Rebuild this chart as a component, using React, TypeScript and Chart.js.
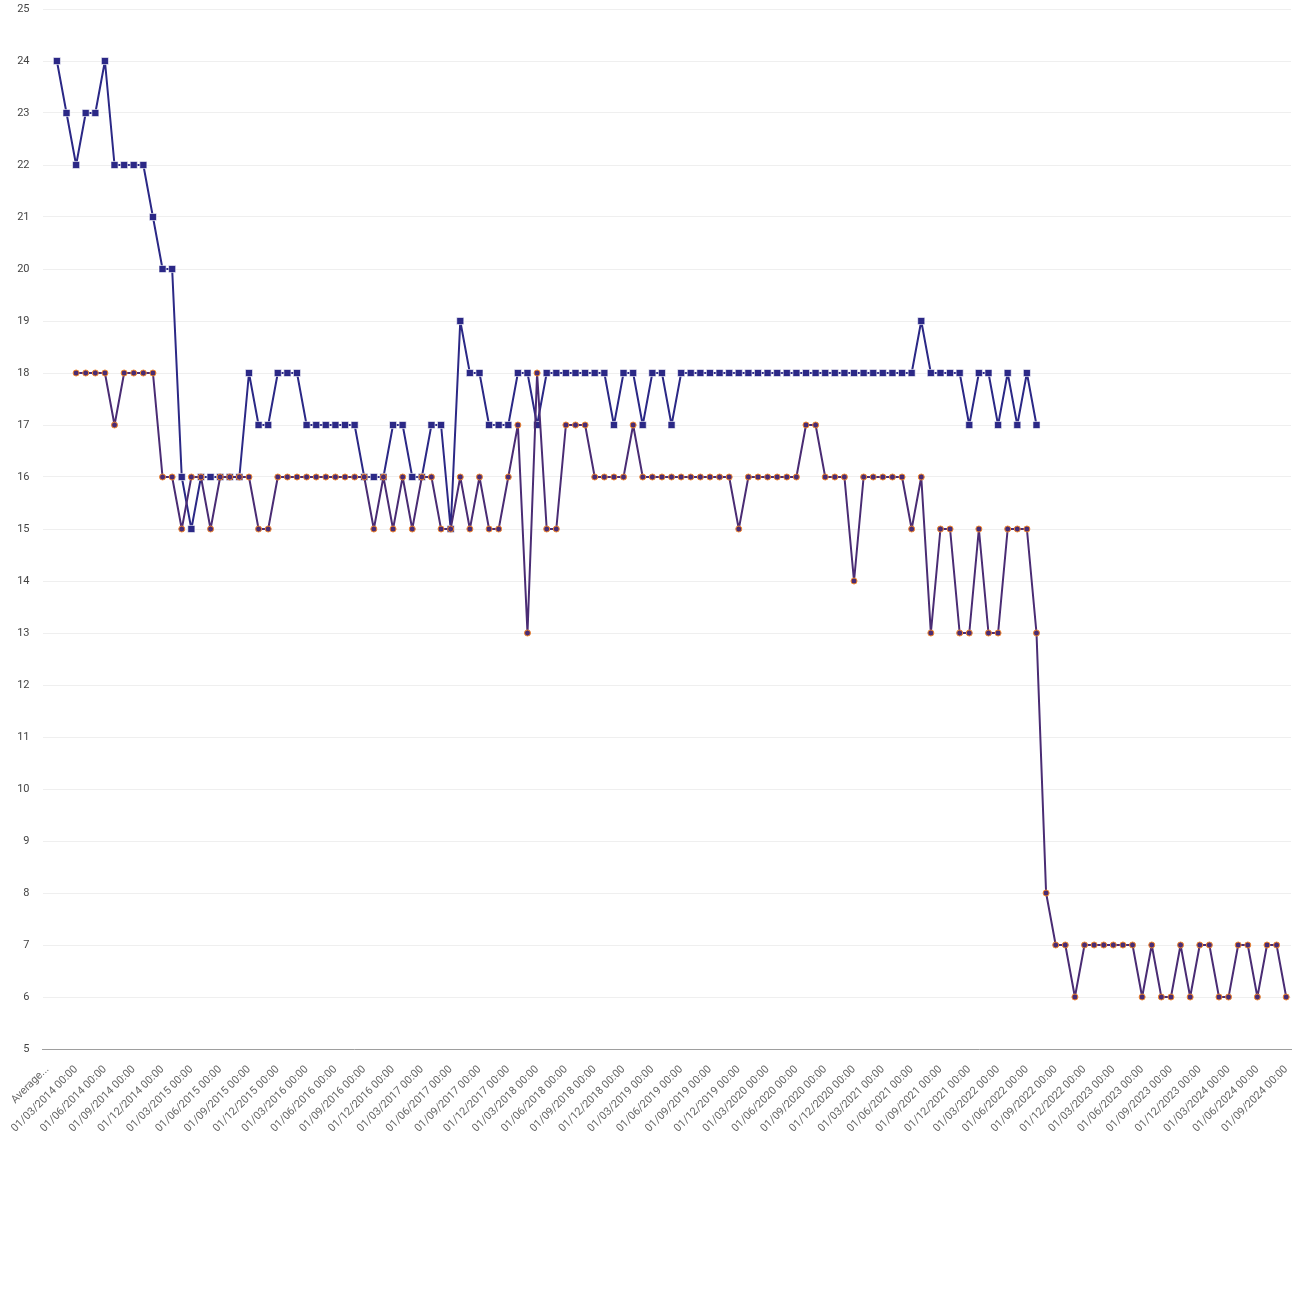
import React, { useEffect, useRef } from "react";
import { Chart, registerables } from "chart.js";

Chart.register(...registerables);

const FIRST_LABEL = "Average...";
const START_YEAR = 2014;
const MONTH_COUNT = 129;

const seriesA: (number | null)[] = [
  null,
  24, 23, 22, 23, 23, 24, 22, 22, 22, 22, 21, 20, 20,
  16, 15, 16, 16, 16, 16, 16,
  18, 17, 17, 18, 18, 18,
  17, 17, 17, 17, 17, 17,
  16, 16, 16, 17, 17, 16, 16, 17, 17,
  15, 19, 18, 18, 17, 17, 17, 18, 18, 17, 18, 18,
  18, 18, 18, 18, 18, 17, 18, 18, 17, 18, 18, 17,
  18, 18, 18, 18, 18, 18, 18, 18, 18, 18, 18, 18, 18, 18, 18, 18, 18, 18, 18, 18, 18, 18, 18, 18, 18,
  19, 18, 18, 18, 18, 17, 18, 18, 17, 18, 17, 18, 17,
  null, null, null, null, null, null, null, null, null, null, null, null, null,
  null, null, null, null, null, null, null, null, null, null, null, null, null,
];

const seriesB: (number | null)[] = [
  null, null, null,
  18, 18, 18, 18, 17, 18, 18, 18, 18,
  16, 16, 15, 16, 16, 15, 16, 16, 16, 16, 15, 15,
  16, 16, 16, 16, 16, 16, 16, 16, 16, 16,
  15, 16, 15, 16, 15, 16, 16, 15, 15, 16, 15, 16, 15, 15, 16, 17, 13, 18, 15, 15,
  17, 17, 17, 16, 16, 16, 16, 17,
  16, 16, 16, 16, 16, 16, 16, 16, 16, 16,
  15, 16, 16, 16, 16, 16, 16,
  17, 17, 16, 16, 16, 14, 16, 16, 16, 16, 16,
  15, 16, 13, 15, 15, 13, 13, 15, 13, 13, 15, 15, 15, 13,
  8, 7, 7, 6, 7, 7, 7, 7, 7, 7, 6, 7, 6, 6, 7, 6, 7, 7, 6, 6, 7, 7, 6, 7, 7, 6,
];

const pad = (n: number) => (n < 10 ? "0" + n : "" + n);
const categories: string[] = [FIRST_LABEL];
for (let k = 0; k < MONTH_COUNT; k++) {
  const y = START_YEAR + Math.floor(k / 12);
  const m = (k % 12) + 1;
  categories.push(`01/${pad(m)}/${y} 00:00`);
}

export default function App() {
  const ref = useRef<HTMLCanvasElement | null>(null);
  useEffect(() => {
    document.body.style.margin = "0";
    if (!ref.current) return;
    Chart.defaults.font.family = "Roboto, 'Liberation Sans', sans-serif";
    const chart = new Chart(ref.current, {
      type: "line",
      data: {
        labels: categories,
        datasets: [
          {
            label: "B",
            data: seriesB,
            borderColor: "#4a2c74",
            borderWidth: 2,
            borderJoinStyle: "round",
            backgroundColor: "#4a2c74",
            pointRadius: 3,
            pointBackgroundColor: "#4a2c74",
            pointBorderColor: "#f0862e",
            pointBorderWidth: 1,
            tension: 0,
          },
          {
            label: "A",
            data: seriesA,
            borderColor: "#2b2886",
            borderWidth: 2,
            borderJoinStyle: "round",
            backgroundColor: "#2b2886",
            pointStyle: "rect",
            pointRadius: 5,
            pointBackgroundColor: "#2b2886",
            pointBorderColor: "rgba(255,255,255,0.6)",
            pointBorderWidth: 1,
            tension: 0,
          },
        ],
      },
      options: {
        animation: false,
        responsive: true,
        maintainAspectRatio: false,
        layout: { padding: { top: 9, right: 9, left: 0, bottom: 0 } },
        plugins: { legend: { display: false }, tooltip: { enabled: false } },
        scales: {
          x: {
            offset: true,
            grid: { display: false, drawTicks: false },
            border: { display: true, color: "#9e9e9e", width: 1 },
            afterFit: (s: any) => {
              s.height = 251;
              s.paddingLeft = 0;
              s.paddingRight = 0;
            },
            ticks: {
              autoSkip: false,
              minRotation: 45,
              maxRotation: 45,
              padding: 14,
              color: "#666",
              font: { size: 11 },
              callback: (_v: any, i: number) => (i % 3 === 0 ? categories[i] : ""),
            },
          },
          y: {
            min: 5,
            max: 25,
            grid: { color: "#efefef", drawTicks: false },
            border: { display: false },
            afterFit: (s: any) => {
              s.width = 42.5;
              s.paddingTop = 0;
              s.paddingBottom = 0;
            },
            ticks: { stepSize: 1, padding: 13, color: "#444", font: { size: 11 } },
          },
        },
      },
    });
    return () => chart.destroy();
  }, []);
  return (
    <div style={{ width: 1300, height: 1300, position: "relative" }}>
      <canvas ref={ref} />
    </div>
  );
}
